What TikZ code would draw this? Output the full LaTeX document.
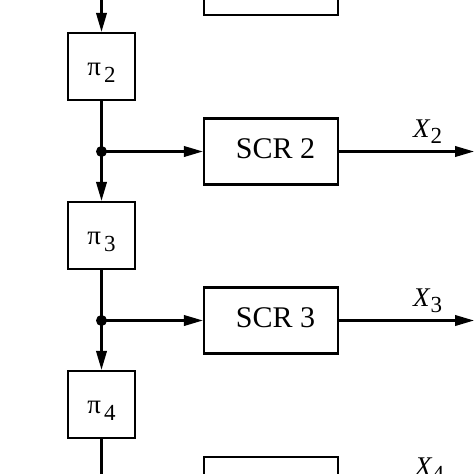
\documentclass[tikz,border=0pt]{standalone}
\usepackage{fontspec}
\setmainfont{Liberation Serif}
\usetikzlibrary{arrows.meta}
\begin{document}
\begin{tikzpicture}[x=1pt,y=-1pt, line width=2.3pt,
  pibox/.style={draw, minimum width=67pt, minimum height=67pt, inner sep=0pt,
    text height=20pt, text depth=2pt, font=\fontsize{27}{30}\selectfont},
  scrbox/.style={draw, minimum width=134pt, minimum height=66pt, inner sep=0pt,
    text height=21pt, text depth=7pt, font=\fontsize{30}{34}\selectfont},
  arr/.style={-{Triangle[length=19pt,width=10.5pt]}},
  dotnode/.style={circle, fill, inner sep=0pt, minimum size=11pt},
  xlab/.style={anchor=base west, inner sep=0pt, font=\fontsize{27}{30}\selectfont}]
\useasboundingbox (0,0) rectangle (474,474);
\clip (0,0) rectangle (474,474);

% boxes
\node[scrbox] (scr1) at (271,-18) {};
\node[pibox] (pi2) at (101.5,66.5) {π\hspace{3pt}\raisebox{-7pt}{\fontsize{23}{24}\selectfont 2}};
\node[scrbox] (scr2) at (271,151.5) {\hspace*{9pt}SCR 2};
\node[pibox] (pi3) at (101.5,235.5) {π\hspace{3pt}\raisebox{-7pt}{\fontsize{23}{24}\selectfont 3}};
\node[scrbox] (scr3) at (271,320.5) {\hspace*{9pt}SCR 3};
\node[pibox] (pi4) at (101.5,404.5) {π\hspace{3pt}\raisebox{-7pt}{\fontsize{23}{24}\selectfont 4}};
\node[scrbox] (scr4) at (271,490) {};

% junctions
\node[dotnode] (d2) at (101.5,151.5) {};
\node[dotnode] (d3) at (101.5,320.5) {};
\coordinate (top) at (101.5,-5);
\coordinate (bot) at (101.5,490);
\coordinate (o2) at (474,151.5);
\coordinate (o3) at (474,320.5);

% connectors
\draw[arr] (top) -- (pi2);
\draw (pi2) -- (d2.center);
\draw[arr] (d2.center) -- (pi3);
\draw[arr] (d2.center) -- (scr2);
\draw[arr] (scr2) -- (o2);
\draw (pi3) -- (d3.center);
\draw[arr] (d3.center) -- (pi4);
\draw[arr] (d3.center) -- (scr3);
\draw[arr] (scr3) -- (o3);
\draw (pi4) -- (bot);

% output labels
\node[xlab] (x2) at (412,137.5) {\textit{X}\raisebox{-6pt}{\fontsize{23}{24}\selectfont 2}};
\node[xlab] (x3) at (412,306.5) {\textit{X}\raisebox{-6pt}{\fontsize{23}{24}\selectfont 3}};
\node[xlab] (x4) at (414,475.5) {\textit{X}\raisebox{-6pt}{\fontsize{23}{24}\selectfont 4}};
\end{tikzpicture}
\end{document}
